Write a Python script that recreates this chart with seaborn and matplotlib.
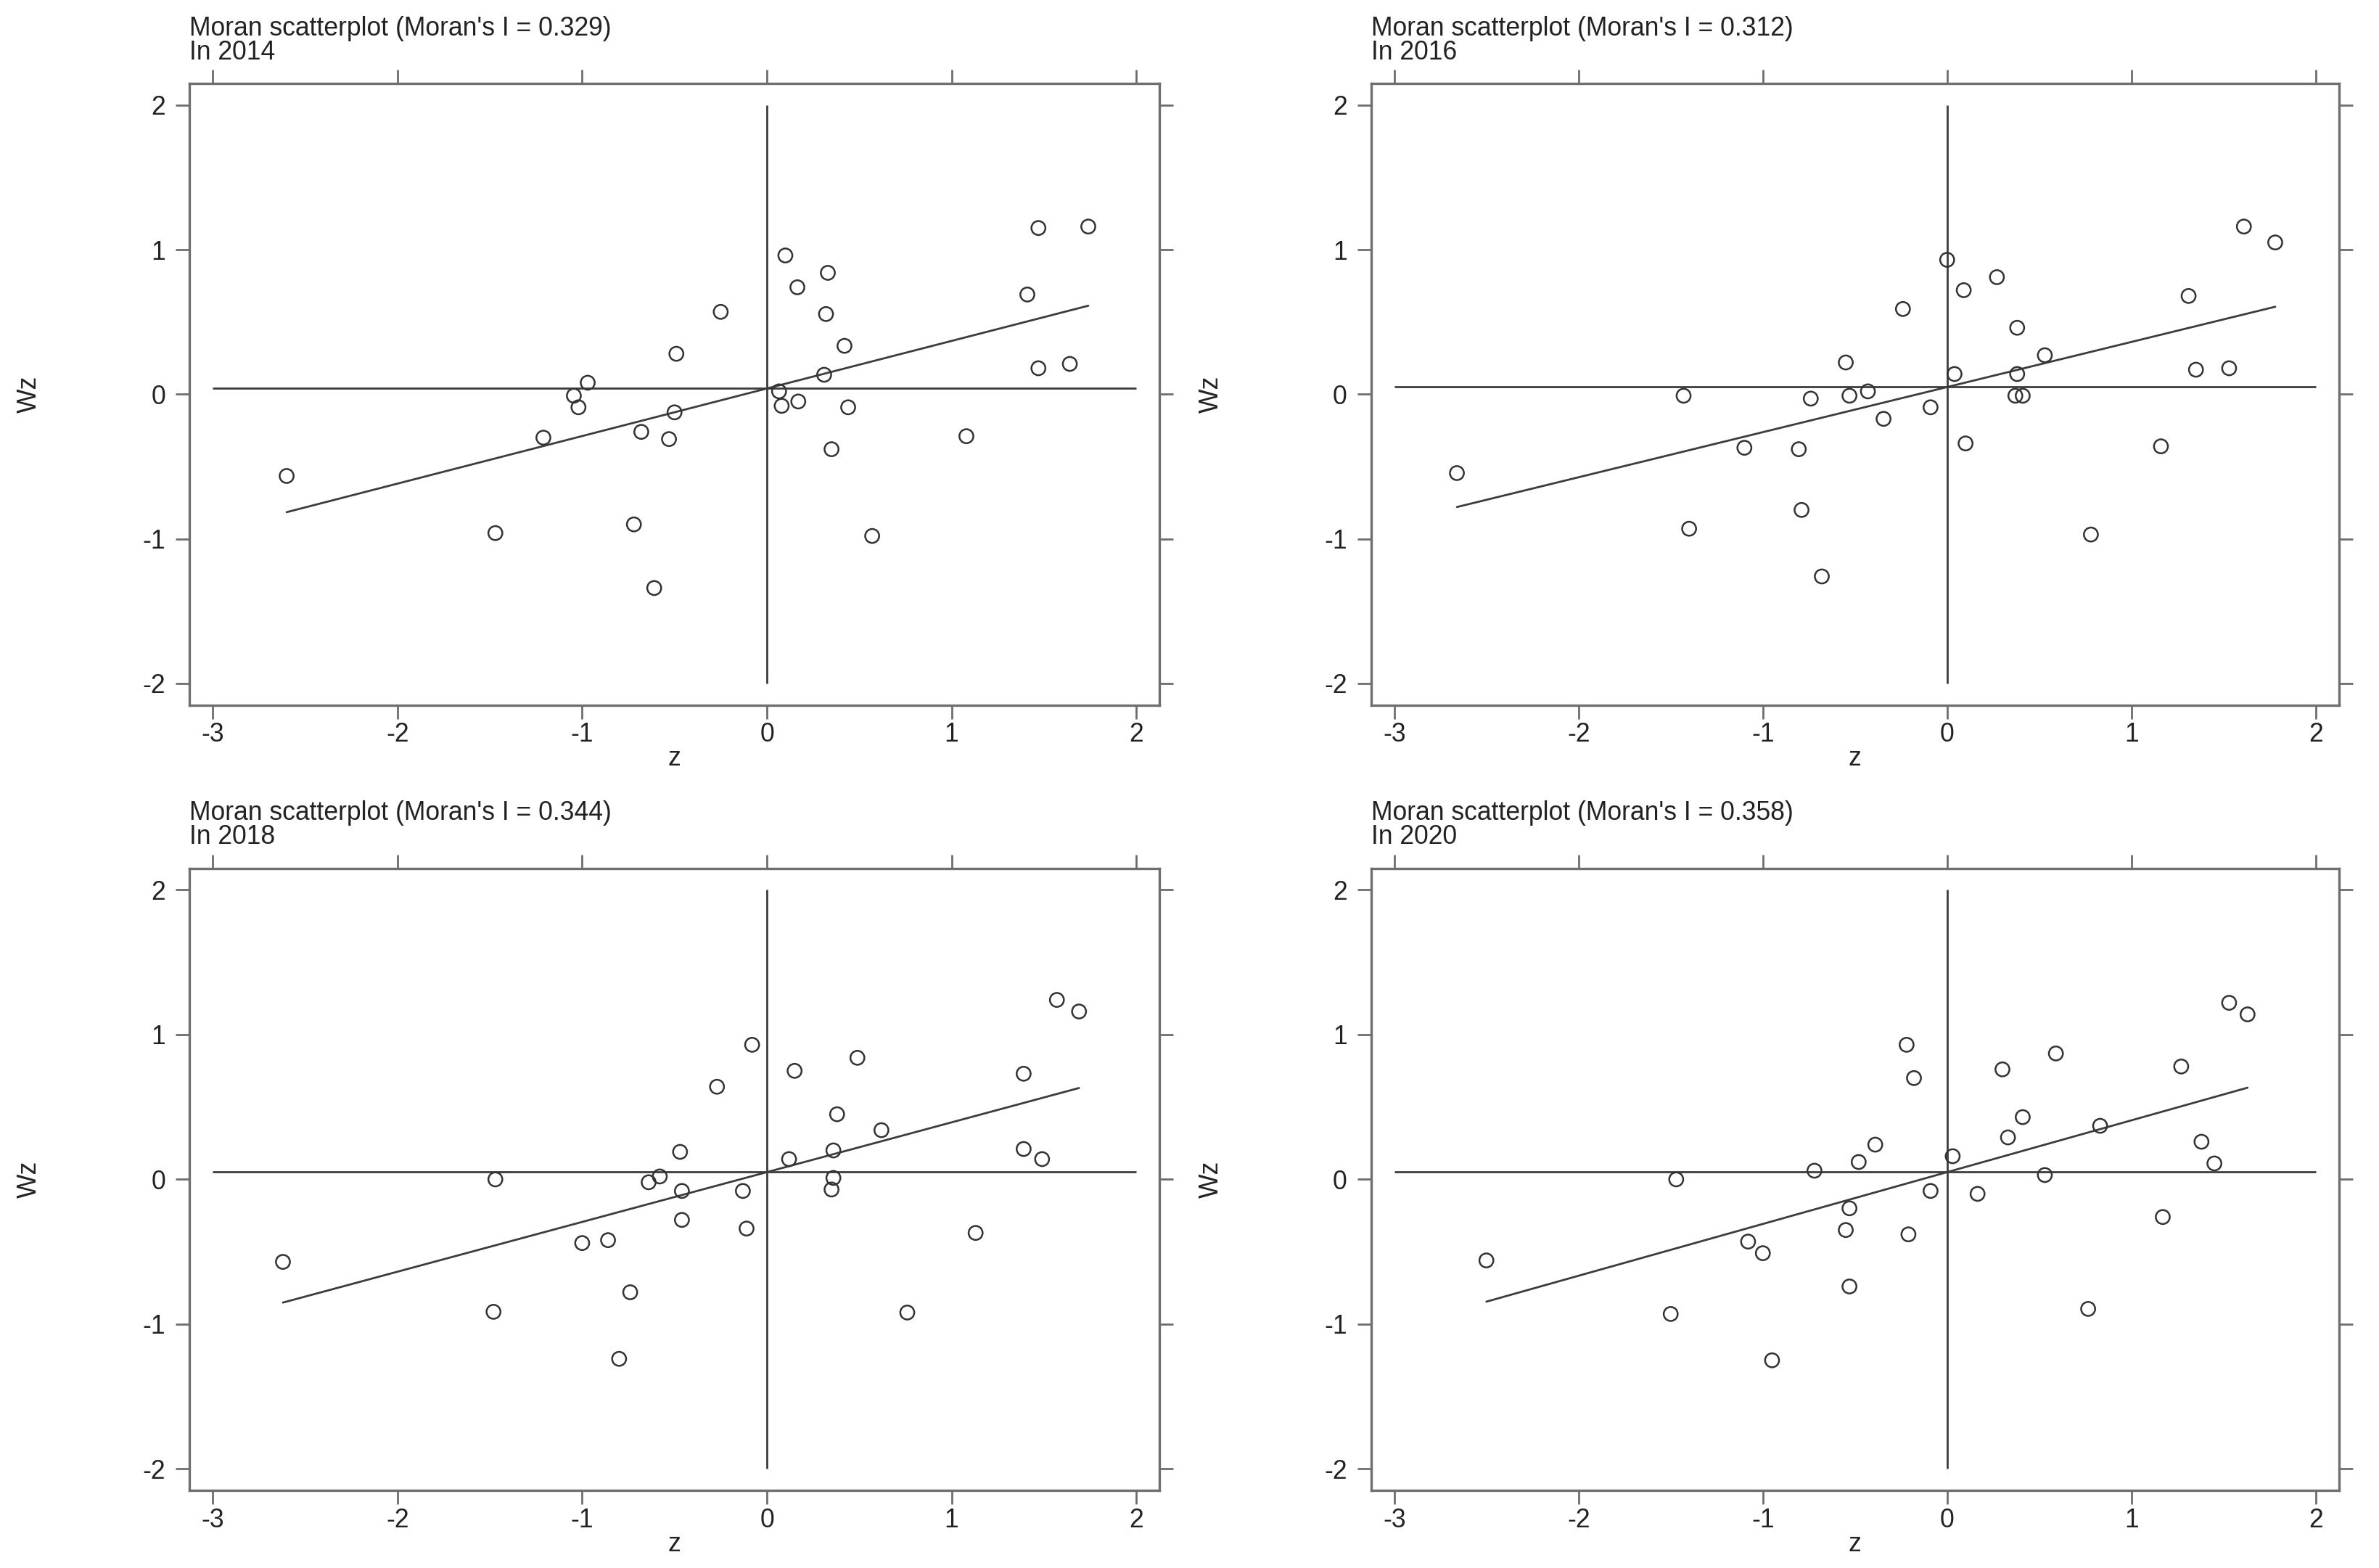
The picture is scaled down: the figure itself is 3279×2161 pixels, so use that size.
import numpy as np
import pandas as pd
import matplotlib
matplotlib.use("Agg")
import matplotlib.pyplot as plt
import seaborn as sns

# Moran scatterplot data (z, Wz per year)
years = ["2014", "2016", "2018", "2020"]
moran_i = [0.329, 0.312, 0.344, 0.358]
wz_mean = [0.04, 0.05, 0.05, 0.05]

z_2014 = [-2.60, -1.47, -1.21, -1.045, -1.02, -0.97, -0.49, -0.25, -0.72, -0.68, -0.61,
          -0.53, -0.50, 0.10, 0.165, 0.33, 0.32, 0.42, 0.31, 0.066, 0.08, 0.17, 0.44,
          0.35, 0.57, 1.08, 1.41, 1.47, 1.74, 1.47, 1.64]
wz_2014 = [-0.565, -0.96, -0.30, -0.01, -0.09, 0.08, 0.28, 0.57, -0.90, -0.26, -1.34,
           -0.31, -0.125, 0.96, 0.74, 0.84, 0.555, 0.335, 0.135, 0.02, -0.08, -0.05, -0.09,
           -0.38, -0.98, -0.29, 0.69, 1.15, 1.16, 0.18, 0.21]

z_2016 = [-2.66, -1.43, -1.40, -1.10, -0.805, -0.79, -0.74, -0.68, -0.55, -0.53, -0.43,
          -0.345, -0.24, -0.09, 0.00, 0.04, 0.09, 0.10, 0.27, 0.38, 0.38, 0.37, 0.41,
          0.53, 0.78, 1.16, 1.31, 1.35, 1.53, 1.61, 1.78]
wz_2016 = [-0.545, -0.01, -0.93, -0.37, -0.38, -0.80, -0.03, -1.26, 0.22, -0.01, 0.02,
           -0.17, 0.59, -0.09, 0.93, 0.14, 0.72, -0.34, 0.81, 0.46, 0.14, -0.01, -0.01,
           0.27, -0.97, -0.36, 0.68, 0.17, 0.18, 1.16, 1.05]

z_2018 = [-2.62, -1.47, -1.48, -1.00, -0.86, -0.80, -0.74, -0.64, -0.58, -0.47, -0.46,
          -0.46, -0.27, -0.13, -0.11, -0.08, 0.12, 0.15, 0.35, 0.36, 0.36, 0.38, 0.49,
          0.62, 0.76, 1.13, 1.39, 1.39, 1.49, 1.57, 1.69]
wz_2018 = [-0.57, 0.00, -0.915, -0.44, -0.42, -1.24, -0.78, -0.02, 0.02, 0.19, -0.08,
           -0.28, 0.64, -0.08, -0.34, 0.93, 0.14, 0.75, -0.07, 0.01, 0.20, 0.45, 0.84,
           0.34, -0.92, -0.37, 0.73, 0.21, 0.14, 1.24, 1.16]

z_2020 = [-2.50, -1.47, -1.50, -1.08, -1.00, -0.95, -0.72, -0.55, -0.53, -0.53, -0.48,
          -0.39, -0.22, -0.21, -0.18, -0.09, 0.03, 0.165, 0.30, 0.33, 0.41, 0.53, 0.59,
          0.83, 0.765, 1.17, 1.27, 1.38, 1.45, 1.53, 1.63]
wz_2020 = [-0.56, 0.00, -0.93, -0.43, -0.51, -1.25, 0.06, -0.35, -0.74, -0.20, 0.12,
           0.24, 0.93, -0.38, 0.70, -0.08, 0.16, -0.10, 0.76, 0.29, 0.43, 0.03, 0.87,
           0.37, -0.895, -0.26, 0.78, 0.26, 0.11, 1.22, 1.14]

z_values = [z_2014, z_2016, z_2018, z_2020]
wz_values = [wz_2014, wz_2016, wz_2018, wz_2020]
x_ticks = [-3, -2, -1, 0, 1, 2]
y_ticks = [-2, -1, 0, 1, 2]

sns.set_style("white")
plt.rcParams['font.family'] = ['Liberation Sans', 'DejaVu Sans']
plt.rcParams['axes.unicode_minus'] = False

line_col = '#3c3c3c'
frame_col = '#6e6e6e'
text_col = '#222222'
fs = 12.8

fig = plt.figure(figsize=(16.4, 10.805), dpi=200)
# axes boxes as fractions of the figure
boxes = [(0.0797, 0.5503, 0.4075, 0.3965), (0.5762, 0.5503, 0.4066, 0.3965),
         (0.0797, 0.0494, 0.4075, 0.3969), (0.5762, 0.0494, 0.4066, 0.3969)]

for k, year in enumerate(years):
    ax = fig.add_axes(boxes[k])
    df = pd.DataFrame({'z': z_values[k], 'Wz': wz_values[k]})

    # reference lines: mean of Wz and z = 0
    ax.hlines(wz_mean[k], x_ticks[0], x_ticks[-1], color=line_col, lw=1.0, zorder=1)
    ax.vlines(0, y_ticks[0], y_ticks[-1], color=line_col, lw=1.0, zorder=1)

    # fitted line, slope = Moran's I, over the range of z
    zr = np.array([df['z'].min(), df['z'].max()])
    fit = pd.DataFrame({'z': zr, 'Wz': wz_mean[k] + moran_i[k] * zr})
    sns.lineplot(data=fit, x='z', y='Wz', ax=ax, color=line_col, lw=1.0, zorder=2)

    sns.scatterplot(data=df, x='z', y='Wz', ax=ax, marker='o', s=48,
                    facecolor='none', edgecolor='#333333', linewidth=0.9, zorder=3)

    ax.set_xlim(-3.125, 2.125)
    ax.set_ylim(-2.15, 2.15)
    ax.set_xticks(x_ticks)
    ax.set_yticks(y_ticks)
    ax.tick_params(direction='out', length=7, width=1.0, color=frame_col,
                   labelsize=fs, top=True, right=True, bottom=True, left=True,
                   labeltop=False, labelright=False, labelcolor=text_col)
    ax.tick_params(axis='x', pad=1.5)
    ax.tick_params(axis='y', pad=5)
    for s in ax.spines.values():
        s.set_color(frame_col)
        s.set_linewidth(1.2)
    ax.set_xlabel('z', fontsize=fs, color=text_col)
    ax.set_ylabel('Wz', fontsize=fs, color=text_col)
    ax.xaxis.set_label_coords(0.5, -0.066)
    ax.yaxis.set_label_coords(-0.152, 0.5)
    ax.set_title("Moran scatterplot (Moran's I = %.3f)\nIn %s" % (moran_i[k], year),
                 loc='left', fontsize=fs, color=text_col, pad=12, linespacing=0.93)

fig.savefig('out.png', dpi=200)
